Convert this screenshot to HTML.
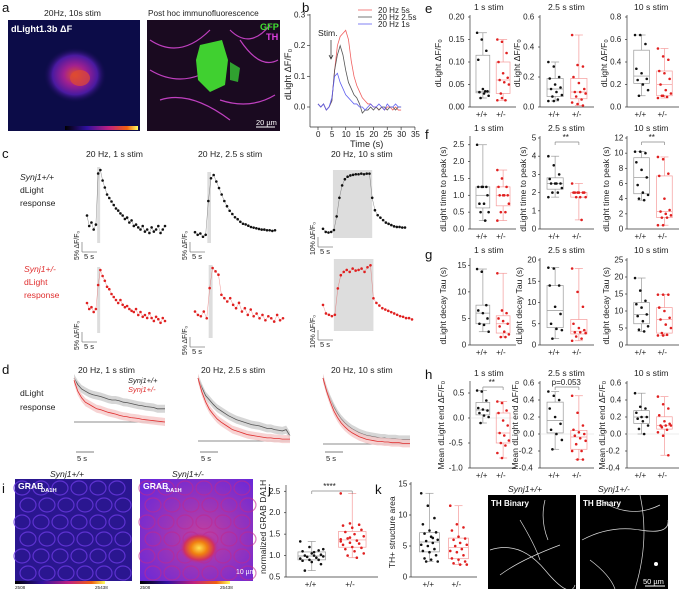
<!DOCTYPE html>
<html><head><meta charset="utf-8"><style>
html,body{margin:0;padding:0;background:#fff}
svg{display:block;font-family:"Liberation Sans",sans-serif}
</style></head><body>
<svg id="fig" width="685" height="589" viewBox="0 0 685 589" xmlns="http://www.w3.org/2000/svg">
<defs>
<radialGradient id="blobA" cx="0.5" cy="0.5" r="0.5"><stop offset="0" stop-color="#e0502a"/><stop offset="0.35" stop-color="#a02090"/><stop offset="0.7" stop-color="#4a1aa0"/><stop offset="1" stop-color="#0a0a40" stop-opacity="0"/></radialGradient>
<linearGradient id="fireBar" x1="0" x2="1"><stop offset="0" stop-color="#000"/><stop offset="0.3" stop-color="#3010a0"/><stop offset="0.6" stop-color="#c02080"/><stop offset="0.85" stop-color="#f06010"/><stop offset="1" stop-color="#ffff60"/></linearGradient>
<radialGradient id="hotspot" cx="0.5" cy="0.5" r="0.5"><stop offset="0" stop-color="#ffe050"/><stop offset="0.4" stop-color="#f08010"/><stop offset="0.75" stop-color="#d03060"/><stop offset="1" stop-color="#a030c0" stop-opacity="0"/></radialGradient>
<radialGradient id="pinkBg" cx="0.55" cy="0.55" r="0.7"><stop offset="0" stop-color="#c040a0"/><stop offset="1" stop-color="#6a28d8"/></radialGradient>
</defs>
<g id="root"></g>
</svg>
<script>
// ---------- data ----------
const bTime=[0,1,2,3,4,5,6,7,8,9,10,11,12,13,14,15,16,17,18,19,20,21,22,23,24,25,26,27,28,29,30];
const b5s=[0.01,0,0.01,-0.01,0,0.02,0.12,0.2,0.23,0.24,0.25,0.22,0.15,0.1,0.07,0.05,0.03,0.02,0.01,0.01,0,0,-0.01,0,-0.01,0,0,-0.01,0,-0.01,-0.01];
const b25s=[0.01,0,0.01,-0.01,0,0.02,0.12,0.17,0.2,0.17,0.12,0.08,0.06,0.04,0.03,0.01,-0.02,-0.01,-0.01,0,-0.01,0,-0.01,0,0,-0.01,0,0,-0.01,0,0];
const b1s=[0.01,0,0.01,-0.01,0,0.03,0.1,0.11,0.08,0.06,0.04,0.03,0.02,0.01,0.01,0,0,-0.01,0,0.01,0,0,0.01,0,-0.01,0.01,0,0,0.01,0,0];
const bYTicks=[0,0.1,0.2,0.3];
const bXTicks=[0,5,10,15,20,25,30,35];

const c1wt=[0.35,0.2,0.25,0.15,0.22,0.95,1.0,0.85,0.75,0.65,0.6,0.55,0.5,0.45,0.42,0.38,0.35,0.3,0.32,0.25,0.28,0.2,0.22,0.18,0.15,0.2,0.12,0.15,0.1,0.18,0.12,0.15,0.2,0.1,0.15,0.2];
const c2wt=[0.12,0.08,0.1,0.05,0.08,0.6,0.95,1.0,0.9,0.8,0.7,0.6,0.52,0.45,0.4,0.35,0.32,0.28,0.25,0.24,0.22,0.2,0.19,0.18,0.17,0.16,0.16,0.15,0.15,0.14,0.15];
const c3wt=[0.1,0.05,0.04,0.05,0.08,0.3,0.6,0.8,0.9,0.94,0.96,0.97,0.98,0.98,0.99,0.98,0.99,0.99,0.6,0.4,0.32,0.28,0.24,0.2,0.18,0.16,0.14,0.13,0.13,0.12,0.12];
const c1het=[0.45,0.35,0.38,0.3,0.35,0.75,1.0,0.9,0.82,0.72,0.68,0.6,0.55,0.5,0.45,0.5,0.42,0.38,0.4,0.35,0.32,0.3,0.35,0.25,0.3,0.22,0.25,0.2,0.28,0.2,0.15,0.22,0.18,0.12,0.2,0.15];
const c2het=[0.35,0.3,0.28,0.35,0.25,0.7,1.0,0.95,0.9,0.6,0.55,0.5,0.55,0.45,0.4,0.48,0.35,0.4,0.3,0.38,0.28,0.32,0.25,0.3,0.22,0.28,0.25,0.2,0.3,0.22,0.25];
const c3het=[0.35,0.22,0.2,0.18,0.2,0.6,0.8,0.85,0.88,0.85,0.9,0.87,0.88,0.9,0.85,0.92,0.95,0.45,0.38,0.34,0.3,0.28,0.26,0.24,0.22,0.2,0.18,0.17,0.15,0.15,0.13];

const d1wt=[1.0,0.85,0.75,0.7,0.65,0.62,0.6,0.58,0.55,0.52,0.5,0.5,0.48,0.45,0.44,0.42,0.4,0.38,0.37,0.35,0.34,0.33,0.3,0.3,0.3];
const d1het=[0.95,0.7,0.55,0.45,0.4,0.35,0.3,0.28,0.25,0.22,0.2,0.18,0.15,0.13,0.12,0.1,0.09,0.08,0.06,0.05,0.04,0.03,0.02,0.01,0];
const d2wt=[1.0,0.85,0.72,0.65,0.58,0.52,0.48,0.44,0.4,0.37,0.34,0.32,0.3,0.28,0.26,0.25,0.24,0.22,0.2,0.2,0.18,0.17,0.16,0.18,0.08];
const d2het=[1.0,0.78,0.62,0.5,0.42,0.35,0.3,0.26,0.22,0.18,0.16,0.14,0.12,0.1,0.09,0.08,0.07,0.06,0.05,0.05,0.04,0.04,0.03,0.03,0.03];
const d3wt=[1.0,0.82,0.68,0.56,0.46,0.38,0.32,0.27,0.23,0.2,0.17,0.15,0.13,0.12,0.11,0.1,0.09,0.09,0.08,0.08,0.08,0.07,0.07,0.07,0.07];
const d3het=[1.0,0.8,0.64,0.5,0.4,0.32,0.26,0.21,0.17,0.14,0.11,0.09,0.07,0.06,0.05,0.04,0.04,0.03,0.03,0.02,0.02,0.02,0.01,0.01,0.01];

const e1wt=[0.165,0.15,0.125,0.105,0.04,0.035,0.033,0.03,0.025,0.02,0.035];
const e1het=[0.15,0.145,0.12,0.1,0.075,0.065,0.06,0.055,0.05,0.03,0.015,0.015,0.02];
const e2wt=[0.3,0.27,0.2,0.19,0.15,0.13,0.12,0.1,0.08,0.07,0.05,0.04,0.04];
const e2het=[0.48,0.28,0.27,0.2,0.16,0.12,0.1,0.1,0.09,0.07,0.05,0.03,0.02,0.01];
const e3wt=[0.64,0.64,0.56,0.34,0.3,0.25,0.24,0.2,0.15,0.1];
const e3het=[0.52,0.45,0.42,0.32,0.3,0.25,0.2,0.15,0.12,0.1,0.09,0.08,0.1];
const f1wt=[2.5,1.25,1.25,1.25,1.25,1,0.75,0.75,0.5,0.5,0.25];
const f1het=[1.75,1.5,1.25,1.25,1,1,1,1,0.75,0.5,0.5,0.25];
const f2wt=[4,3.5,3,2.75,2.5,2.5,2.5,2.5,2.25,2,2,1.75];
const f2het=[2.5,2,2,2,2,2,2,1.75,1.75,1.75,0.5];
const f3wt=[10.2,10.2,10,8.8,7.8,6.8,5.8,4.8,4.5,4,3.8];
const f3het=[9.5,9.2,7.3,7,4,2.5,2.3,2,1.8,1.5,1.5,0.5,0.5];
const g1wt=[14.3,13.8,7.5,6.5,6,5,4,3.8,2.5];
const g1het=[13.5,6.5,6,5,4.5,4,3.5,2.5,2,1.5,1.5];
const g2wt=[18.2,18,14,14,9,7.3,5,3.8,3.5,1.5];
const g2het=[18,12.5,9,5,4,3.5,3,3,2.8,2,1.5,1];
const g3wt=[19.7,16,13,12,11,9,8.5,7,5.5,4.5,4];
const g3het=[14.8,14.8,14.8,11,10,8,7.5,6,5,3.5,3,2.8,2.8];
const h1wt=[0.55,0.53,0.35,0.2,0.17,0.15,0.1,0.05,0.02,-0.1];
const h1het=[0.33,0.3,0.15,0.1,-0.05,-0.15,-0.3,-0.35,-0.45,-0.5,-0.55,-0.7,-0.8];
const h2wt=[0.5,0.45,0.4,0.3,0.2,0.12,0.05,0,-0.07,-0.18];
const h2het=[0.45,0.25,0.1,0.05,0.02,0,-0.02,-0.05,-0.08,-0.12,-0.2,-0.2,-0.3,-0.3];
const h3wt=[0.48,0.32,0.3,0.25,0.2,0.2,0.18,0.15,0.1,0.06,0];
const h3het=[0.44,0.35,0.3,0.22,0.15,0.12,0.1,0.1,0.1,0.08,0.05,0.02,-0.02,-0.25];
const jwt=[1.33,1.2,1.12,1.1,1.05,1.02,1,1,0.98,0.97,0.95,0.93,0.9,0.9,0.88,0.85,0.8,0.65,1.08,1.15];
const jhet=[2.45,1.75,1.72,1.7,1.65,1.6,1.55,1.5,1.45,1.4,1.35,1.33,1.3,1.28,1.25,1.2,1.18,1.15,1.1,1.05,1,0.95,1.38,1.42];
const kwt=[13.5,11.5,9.5,8.5,7.5,7.2,7,6.5,6,5.8,5.5,5.2,5,4.5,4.2,4,3.5,3,2.8,2.5,2.5,6.3];
const khet=[11.5,8.5,8,7.5,6.5,6.2,6,5.5,5.2,5,4.5,4.2,4,3.5,3,2.8,2.5,2.2,2,2];
const groupLabels=["+/+","+/-"];

// ---------- helpers ----------
const NS="http://www.w3.org/2000/svg";
const root=document.getElementById('root');
const FS=1.15;
function mk(tag,attrs,parent,txt){const e=document.createElementNS(NS,tag);for(const k in attrs)e.setAttribute(k,attrs[k]);if(txt!==undefined)e.textContent=txt;(parent||root).appendChild(e);return e;}
function T(x,y,s,size,extra){const a=Object.assign({x:x,y:y,'font-size':(size||8)*FS,fill:'#222'},extra||{});const t=mk('text',a,null,s);


return t;}
function L(x1,y1,x2,y2,c,w){return mk('line',{x1,y1,x2,y2,stroke:c||'#333','stroke-width':w||0.7});}
function q(arr,p){const s=[...arr].sort((a,b)=>a-b);const i=(s.length-1)*p;const lo=Math.floor(i),hi=Math.ceil(i);return s[lo]+(s[hi]-s[lo])*(i-lo);}

// ---------- panel letters ----------
[["a",2,12],["b",302,12],["c",2,158],["d",2,374],["e",425,13],["f",425,139],["g",425,259],["h",425,379],["i",2,493],["j",268,494],["k",375,494]].forEach(p=>{const t=T(p[1],p[2],p[0],11.5,{fill:'#111'});});

// ---------- panel a images ----------
T(44,16,"20Hz, 10s stim",7.5);
T(148,16,"Post hoc immunofluorescence",7.2);
mk('rect',{x:8,y:20,width:132,height:111,fill:'#0c0c48'});
mk('ellipse',{cx:75,cy:75,rx:32,ry:28,fill:'url(#blobA)'});
mk('ellipse',{cx:80,cy:78,rx:10,ry:8,fill:'#e04a30',opacity:0.7});
T(11,32,"dLight1.3b \u0394F",8,{fill:'#fff','font-weight':'bold'});
mk('rect',{x:65,y:126,width:73,height:4,fill:'url(#fireBar)'});
mk('rect',{x:147,y:20,width:133,height:111,fill:'#1a0a20'});
[[150,40,180,60,210,30],[160,100,190,90,230,120],[240,40,260,70,278,60],[150,70,175,85,200,75],[220,100,250,110,275,95],[230,30,250,50,270,25]].forEach(p=>mk('path',{d:`M${p[0]} ${p[1]} Q${p[2]} ${p[3]} ${p[4]} ${p[5]}`,stroke:'#c040c0','stroke-width':1.2,fill:'none'}));
mk('path',{d:'M200 45 L222 40 L228 60 L225 85 L210 92 L198 80 L196 60 Z',fill:'#40d030'});
mk('path',{d:'M230 62 L240 68 L238 82 L230 80 Z',fill:'#30a030'});
T(260,30,"GFP",8,{fill:'#40e030','font-weight':'bold'});
T(266,40,"TH",8,{fill:'#e040e0','font-weight':'bold'});
L(256,127,275,127,'#fff',1);T(256,125,"20 \u00b5m",6.5,{fill:'#fff'});

// ---------- panel b ----------
(function(){
 const x0=318,xs=2.77,y0=107,ys=306.7;
 const X=t=>x0+t*xs,Y=v=>y0-v*ys;
 L(310,14,310,127);L(310,127,415,127);
 bYTicks.forEach(v=>{L(307,Y(v),310,Y(v));T(294,Y(v)+2.5,v.toFixed(1),7);});
 bXTicks.forEach(v=>{L(X(v),127,X(v),130);T(X(v)-(v>=10?4:2),137,String(v),7);});
 T(350,147,"Time (s)",8);
 const yl=T(0,0,"dLight \u0394F/F\u2080",8,{transform:'translate(291,100) rotate(-90)'});
 
 [[b5s,'#f06060','20 Hz 5s'],[b25s,'#555','20 Hz 2.5s'],[b1s,'#6060f0','20 Hz 1s']].forEach((s,k)=>{
  const p=mk('polyline',{points:bTime.map((t,i)=>X(t)+','+Y(s[0][i])).join(' '),fill:'none',stroke:s[1],'stroke-width':0.8});
  
  
  L(358,10+k*7,372,10+k*7,s[1],0.8);T(378,13+k*7,s[2],7);
 });
 T(318,36,"Stim.",7.5);L(331,40,331,58,'#222',0.7);mk('path',{d:'M329 55 L331 59 L333 55',fill:'none',stroke:'#222','stroke-width':0.7});
})();

// ---------- panel c ----------
T(86,157,"20 Hz, 1 s stim",7.5);T(198,157,"20 Hz, 2.5 s stim",7.5);T(331,157,"20 Hz, 10 s stim",7.5);
T(20,180,"Synj1+/+",7.5,{'font-style':'italic'});T(20,193,"dLight",7.5);T(20,206,"response",7.5);
T(24,272,"Synj1+/-",7.5,{'font-style':'italic',fill:'#e03030'});T(24,285,"dLight",7.5,{fill:'#e03030'});T(24,298,"response",7.5,{fill:'#e03030'});
function trace(vals,x0,x1,ytop,ybot,s0,s1,color,name,sb){
 const dx=(x1-x0)/(vals.length-1);const X=i=>x0+i*dx,Y=v=>ybot-v*(ybot-ytop);
 mk('rect',{x:X(s0)-1,y:ytop-3,width:Math.max(3,X(s1)-X(s0)+1),height:ybot-ytop+6,fill:'#ddd'});
 const pl=mk('polyline',{points:vals.map((v,i)=>X(i)+','+Y(v)).join(' '),fill:'none',stroke:color,'stroke-width':0.4,opacity:0.6});
 
 
 vals.forEach((v,i)=>{const c=mk('circle',{cx:X(i),cy:Y(v),r:1.3,fill:color});});
 L(x0-5,ybot+2,x0-5,ybot+12,'#777');L(x0-5,ybot+12,x0+10,ybot+12,'#777');
 T(x0-3,ybot+19,"5 s",6.5);
 T(0,0,sb,6,{transform:`translate(${x0-8},${ybot+20}) rotate(-90)`});
}
trace(c1wt,87,165,170,240,5,5,'#111','c-wt-1s',"5% \u0394F/F\u2080");
trace(c2wt,195,275,175,240,5,6,'#111','c-wt-2.5s',"5% \u0394F/F\u2080");
trace(c3wt,323,405,173,235,4,18,'#111','c-wt-10s',"10% \u0394F/F\u2080");
trace(c1het,87,165,270,330,5,5,'#e02020','c-het-1s',"5% \u0394F/F\u2080");
trace(c2het,195,283,268,335,5,6,'#e02020','c-het-2.5s',"5% \u0394F/F\u2080");
trace(c3het,323,412,262,328,4,17,'#e02020','c-het-10s',"10% \u0394F/F\u2080");

// ---------- panel d ----------
T(78,373,"20 Hz, 1 s stim",7.5);T(201,373,"20 Hz, 2.5 s stim",7.5);T(331,373,"20 Hz, 10 s stim",7.5);
T(20,396,"dLight",7.5);T(20,410,"response",7.5);
T(128,383,"Synj1+/+",6.5,{'font-style':'italic'});T(128,392,"Synj1+/-",6.5,{'font-style':'italic',fill:'#e03030'});
function dPanel(wt,het,x0,x1,ytop,ybase,ybot,name){
 const X=i=>x0+i*(x1-x0)/(wt.length-1),Y=v=>ybase-v*(ybase-ytop);
 L(x0,ybase,x1,ybase,'#666',0.8);
 [[wt,'#555','#ccc'],[het,'#e03030','#f5c8c8']].forEach((s,k)=>{
  const band=s[0].map((v,i)=>X(i)+','+(Y(v)-4)).join(' ')+' '+s[0].map((v,i)=>X(i)+','+(Y(v)+4)).reverse().join(' ');
  mk('polygon',{points:band,fill:s[2],opacity:0.8});
  const pl=mk('polyline',{points:s[0].map((v,i)=>X(i)+','+Y(v)).join(' '),fill:'none',stroke:s[1],'stroke-width':0.8});
  
  
 });
 L(x0+2,ybot,x0+20,ybot,'#555');T(x0+3,ybot+9,"5 s",6.5);
}
dPanel(d1wt,d1het,74,165,378,422,452,'d-1s');
dPanel(d2wt,d2het,198,290,378,441,452,'d-2.5s');
dPanel(d3wt,d3het,323,410,378,444,452,'d-10s');

// ---------- box plots ----------
function boxPanel(o){
 const {ax,w,ty,by,min,max,ticks,dec,wt,het,ylabel,title,sig,name}=o;
 const Y=v=>by-(v-min)/(max-min)*(by-ty);
 L(ax,ty-2,ax,by);L(ax,by,ax+w,by);
 ticks.forEach(v=>{L(ax-2,Y(v),ax,Y(v));const s=v.toFixed(dec);T(ax-4-s.length*4.3,Y(v)+2.5,s,7);});
 if(min<0)L(ax,Y(0),ax+w,Y(0),'#ddd',0.6);
 if(title)T(ax+w/2-19,ty-7,title,7.5);
 const yl=T(0,0,ylabel,7.5,{transform:`translate(${o.ylx||ax-24},${(ty+by)/2+ylabel.length*2.1}) rotate(-90)`});
 
 [[wt,'#111','#999'],[het,'#e02020','#f59a9a']].forEach((s,g)=>{
  const cx=ax+w*(g?0.72:0.28),bw=w*0.3;
  const d=s[0];const q1=q(d,0.25),md=q(d,0.5),q3=q(d,0.75),mn=Math.min(...d),mx=Math.max(...d);
  L(cx,Y(mx),cx,Y(q3),s[2],0.7);L(cx,Y(q1),cx,Y(mn),s[2],0.7);
  L(cx-4,Y(mx),cx+4,Y(mx),s[2],0.7);L(cx-4,Y(mn),cx+4,Y(mn),s[2],0.7);
  const r=mk('rect',{x:cx-bw/2,y:Y(q3),width:bw,height:Y(q1)-Y(q3),fill:'none',stroke:s[2],'stroke-width':0.7});
  
  
  L(cx-bw/2,Y(md),cx+bw/2,Y(md),s[2],0.7);
  d.forEach((v,i)=>{const dot=mk('circle',{cx:cx+((i*37)%11-5)*bw/12,cy:Y(v),r:1.3,fill:s[1]});
   
   });
  T(cx-7,by+10,groupLabels[g],7);
 });
 if(sig){const yy=ty+4;L(ax+w*0.28,yy,ax+w*0.72,yy,'#888');L(ax+w*0.28,yy,ax+w*0.28,yy+3,'#888');L(ax+w*0.72,yy,ax+w*0.72,yy+3,'#888');T(ax+w/2-sig.length*2.2,yy-2,sig,7);}
}
const cols=[[470,46],[540,54],[627,52]];
const rowE={ty:17,by:107},rowF={ty:138,by:229},rowG={ty:260,by:345},rowH={ty:383,by:468};
const dl="dLight \u0394F/F\u2080";
boxPanel(Object.assign({ax:cols[0][0],w:cols[0][1],min:0,max:0.2,ticks:[0,0.05,0.1,0.15,0.2],dec:2,wt:e1wt,het:e1het,ylabel:dl,title:"1 s stim",name:'e-1s',ylx:cols[0][0]-29},rowE));
boxPanel(Object.assign({ax:cols[1][0],w:cols[1][1],min:0,max:0.6,ticks:[0,0.2,0.4,0.6],dec:1,wt:e2wt,het:e2het,ylabel:dl,title:"2.5 s stim",name:'e-2.5s',ylx:cols[1][0]-20},rowE));
boxPanel(Object.assign({ax:cols[2][0],w:cols[2][1],min:0,max:0.8,ticks:[0,0.2,0.4,0.6,0.8],dec:1,wt:e3wt,het:e3het,ylabel:dl,title:"10 s stim",name:'e-10s',ylx:cols[2][0]-20},rowE));
const tp="dLight time to peak (s)";
boxPanel(Object.assign({ax:cols[0][0],w:cols[0][1],min:0,max:2.7,ticks:[0,0.5,1,1.5,2,2.5],dec:1,wt:f1wt,het:f1het,ylabel:tp,title:"1 s stim",name:'f-1s'},rowF));
boxPanel(Object.assign({ax:cols[1][0],w:cols[1][1],min:0,max:5,ticks:[0,1,2,3,4,5],dec:0,wt:f2wt,het:f2het,ylabel:tp,title:"2.5 s stim",sig:"**",name:'f-2.5s',ylx:cols[1][0]-14},rowF));
boxPanel(Object.assign({ax:cols[2][0],w:cols[2][1],min:0,max:12,ticks:[0,2,4,6,8,10,12],dec:0,wt:f3wt,het:f3het,ylabel:tp,title:"10 s stim",sig:"**",name:'f-10s',ylx:cols[2][0]-18},rowF));
const dt="dLight decay Tau (s)";
boxPanel(Object.assign({ax:cols[0][0],w:cols[0][1],min:0,max:16,ticks:[0,5,10,15],dec:0,wt:g1wt,het:g1het,ylabel:dt,title:"1 s stim",name:'g-1s'},rowG));
boxPanel(Object.assign({ax:cols[1][0],w:cols[1][1],min:0,max:20,ticks:[0,5,10,15,20],dec:0,wt:g2wt,het:g2het,ylabel:dt,title:"2.5 s stim",name:'g-2.5s',ylx:cols[1][0]-18},rowG));
boxPanel(Object.assign({ax:cols[2][0],w:cols[2][1],min:0,max:25,ticks:[0,5,10,15,20,25],dec:0,wt:g3wt,het:g3het,ylabel:dt,title:"10 s stim",name:'g-10s',ylx:cols[2][0]-18},rowG));
const me="Mean dLight end \u0394F/F\u2080";
boxPanel(Object.assign({ax:cols[0][0],w:cols[0][1],min:-1,max:0.7,ticks:[-1,-0.5,0,0.5],dec:1,wt:h1wt,het:h1het,ylabel:me,title:"1 s stim",sig:"**",name:'h-1s',ylx:cols[0][0]-26},rowH));
boxPanel(Object.assign({ax:cols[1][0],w:cols[1][1],min:-0.4,max:0.6,ticks:[-0.4,-0.2,0,0.2,0.4,0.6],dec:1,wt:h2wt,het:h2het,ylabel:me,title:"2.5 s stim",sig:"p=0.053",name:'h-2.5s',ylx:cols[1][0]-22},rowH));
boxPanel(Object.assign({ax:cols[2][0],w:cols[2][1],min:-0.4,max:0.6,ticks:[-0.4,-0.2,0,0.2,0.4,0.6],dec:1,wt:h3wt,het:h3het,ylabel:me,title:"10 s stim",name:'h-10s',ylx:cols[2][0]-22},rowH));

// ---------- panel i ----------
T(50,477,"Synj1+/+",7.5,{'font-style':'italic'});T(172,477,"Synj1+/-",7.5,{'font-style':'italic'});
mk('rect',{x:15,y:479,width:117,height:102,fill:'#2a1690'});
mk('rect',{x:140,y:479,width:113,height:102,fill:'url(#pinkBg)'});
for(let r=0;r<6;r++)for(let c=0;c<6;c++){
 mk('ellipse',{cx:22+c*19+(r%2)*6,cy:488+r*17,rx:8,ry:7,fill:'none',stroke:'#6a3ae0','stroke-width':1.2,opacity:0.8});
 mk('ellipse',{cx:147+c*19+(r%2)*6,cy:488+r*17,rx:8,ry:7,fill:'none',stroke:'#c02890','stroke-width':1.2,opacity:0.6});
}
mk('ellipse',{cx:199,cy:548,rx:20,ry:16,fill:'url(#hotspot)'});
T(18,489,"GRAB",7.5,{fill:'#fff','font-weight':'bold'});T(41,492,"DA1H",5,{fill:'#fff','font-weight':'bold'});
T(143,489,"GRAB",7.5,{fill:'#fff','font-weight':'bold'});T(166,492,"DA1H",5,{fill:'#fff','font-weight':'bold'});
T(236,574,"10 \u00b5m",6,{fill:'#fff'});
mk('rect',{x:15,y:581,width:90,height:3,fill:'url(#fireBar)'});mk('rect',{x:140,y:581,width:90,height:3,fill:'url(#fireBar)'});
T(15,589,"2508",4);T(95,589,"25438",4);T(140,589,"2508",4);T(220,589,"25438",4);

// ---------- panel j, k ----------
boxPanel({ax:286,w:92,ty:487,by:577,min:0.5,max:2.6,ticks:[0.5,1,1.5,2,2.5],dec:1,wt:jwt,het:jhet,ylabel:"normalized GRAB DA1H",sig:"****",name:'j',ylx:266});
boxPanel({ax:411,w:66,ty:484,by:577,min:0,max:15,ticks:[0,5,10,15],dec:0,wt:kwt,het:khet,ylabel:"TH+ structure area",name:'k',ylx:395});

// ---------- TH binary ----------
T(508,492,"Synj1+/+",7.5,{'font-style':'italic'});T(598,492,"Synj1+/-",7.5,{'font-style':'italic'});
mk('rect',{x:488,y:495,width:88,height:94,fill:'#000'});
mk('rect',{x:580,y:495,width:88,height:94,fill:'#000'});
[['M490 550 Q520 540 545 570 T575 585'],['M520 520 Q535 545 540 560'],['M500 575 Q520 560 560 545'],['M545 500 Q540 520 548 540'],
 ['M582 540 Q610 525 640 530 T668 520'],['M600 500 Q630 520 660 505'],['M640 495 Q650 540 635 589'],['M590 560 Q610 575 615 589']].forEach(p=>mk('path',{d:p[0],stroke:'#ddd','stroke-width':0.7,fill:'none'}));
mk('circle',{cx:656,cy:564,r:2,fill:'#fff'});
T(491,506,"TH Binary",7,{fill:'#fff','font-weight':'bold'});T(583,506,"TH Binary",7,{fill:'#fff','font-weight':'bold'});
T(643,584,"50 \u00b5m",6.5,{fill:'#fff'});L(645,586,665,586,'#fff',1);
</script>
</body></html>
